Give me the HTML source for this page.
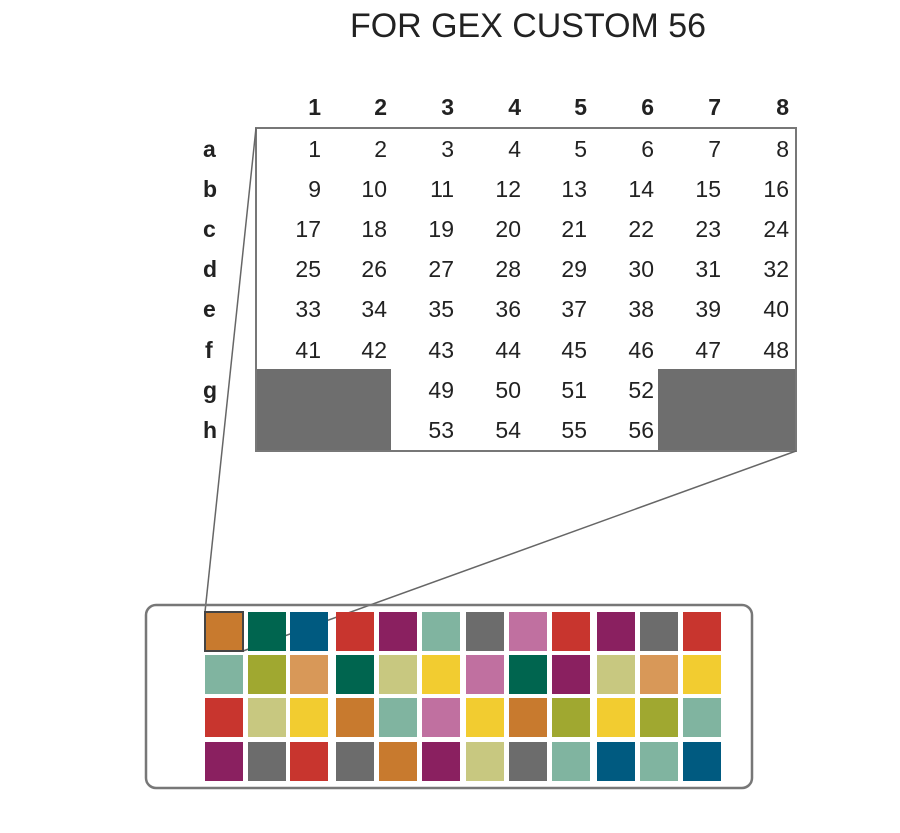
<!DOCTYPE html>
<html><head><style>html,body{margin:0;padding:0;background:#fff}</style></head>
<body>
<svg width="900" height="828" viewBox="0 0 900 828" xmlns="http://www.w3.org/2000/svg">
<text x="350" y="37" font-family="Liberation Sans, sans-serif" font-size="34" fill="#222" textLength="356" lengthAdjust="spacingAndGlyphs">FOR GEX CUSTOM 56</text>
<g font-family="Liberation Sans, DejaVu Sans, sans-serif" font-size="23" font-weight="bold" fill="#222" text-anchor="end">
<text x="321" y="115">1</text><text x="387" y="115">2</text><text x="454" y="115">3</text><text x="521" y="115">4</text><text x="587" y="115">5</text><text x="654" y="115">6</text><text x="721" y="115">7</text><text x="789" y="115">8</text>
</g>
<g font-family="Liberation Sans, DejaVu Sans, sans-serif" font-size="23" font-weight="bold" fill="#222">
<text x="203" y="157">a</text><text x="203" y="197">b</text><text x="203" y="237">c</text><text x="203" y="277">d</text><text x="203" y="317">e</text><text x="205" y="358">f</text><text x="203" y="398">g</text><text x="203" y="438">h</text>
</g>
<rect x="256" y="369" width="135" height="82" fill="#6e6e6e"/>
<rect x="658" y="369" width="138" height="82" fill="#6e6e6e"/>
<rect x="256" y="128" width="540" height="323" fill="none" stroke="#777" stroke-width="2"/>
<g font-family="Liberation Sans, DejaVu Sans, sans-serif" font-size="23" fill="#222" text-anchor="end" id="nums"></g>
<g stroke="#666" stroke-width="1.5">
<line x1="256" y1="128" x2="205" y2="612"/>
<line x1="796" y1="451" x2="243" y2="651"/>
</g>
<rect x="146" y="605" width="606" height="183" rx="10" fill="none" stroke="#777" stroke-width="2.5"/>
<g id="cells"></g>
<rect x="205" y="612" width="38" height="39" fill="none" stroke="#444" stroke-width="2"/>
</svg>
<script>
var ns="http://www.w3.org/2000/svg";
var xs=[321,387,454,521,587,654,721,789],ys=[157,197,237,277,317,358,398,438];
var g=document.getElementById('nums'),n=1;
for(var r=0;r<8;r++)for(var c=0;c<8;c++){
 if(r>=6&&(c<2||c>5))continue;
 var t=document.createElementNS(ns,'text');t.setAttribute('x',xs[c]);t.setAttribute('y',ys[r]);t.textContent=n++;g.appendChild(t);}
var P={o:'#c87a2e',g:'#00654f',b:'#005a80',r:'#c8352e',p:'#8a2060',t:'#80b4a0',y:'#6c6c6c',k:'#c070a0',v:'#a0a830',l:'#c8c880',w:'#f2cc30',n:'#d89858'};
var rows=['ogbrptykrpyr','tvnglwkgplnw','rlwotkwovwvt','pyryoplytbtb'];
var cx=[205,248,290,336,379,422,466,509,552,597,640,683],cy=[612,655,698,742];
var cg=document.getElementById('cells');
for(var r=0;r<4;r++)for(var c=0;c<12;c++){var e=document.createElementNS(ns,'rect');e.setAttribute('x',cx[c]);e.setAttribute('y',cy[r]);e.setAttribute('width',38);e.setAttribute('height',39);e.setAttribute('fill',P[rows[r][c]]);cg.appendChild(e);}
</script>
</body></html>
